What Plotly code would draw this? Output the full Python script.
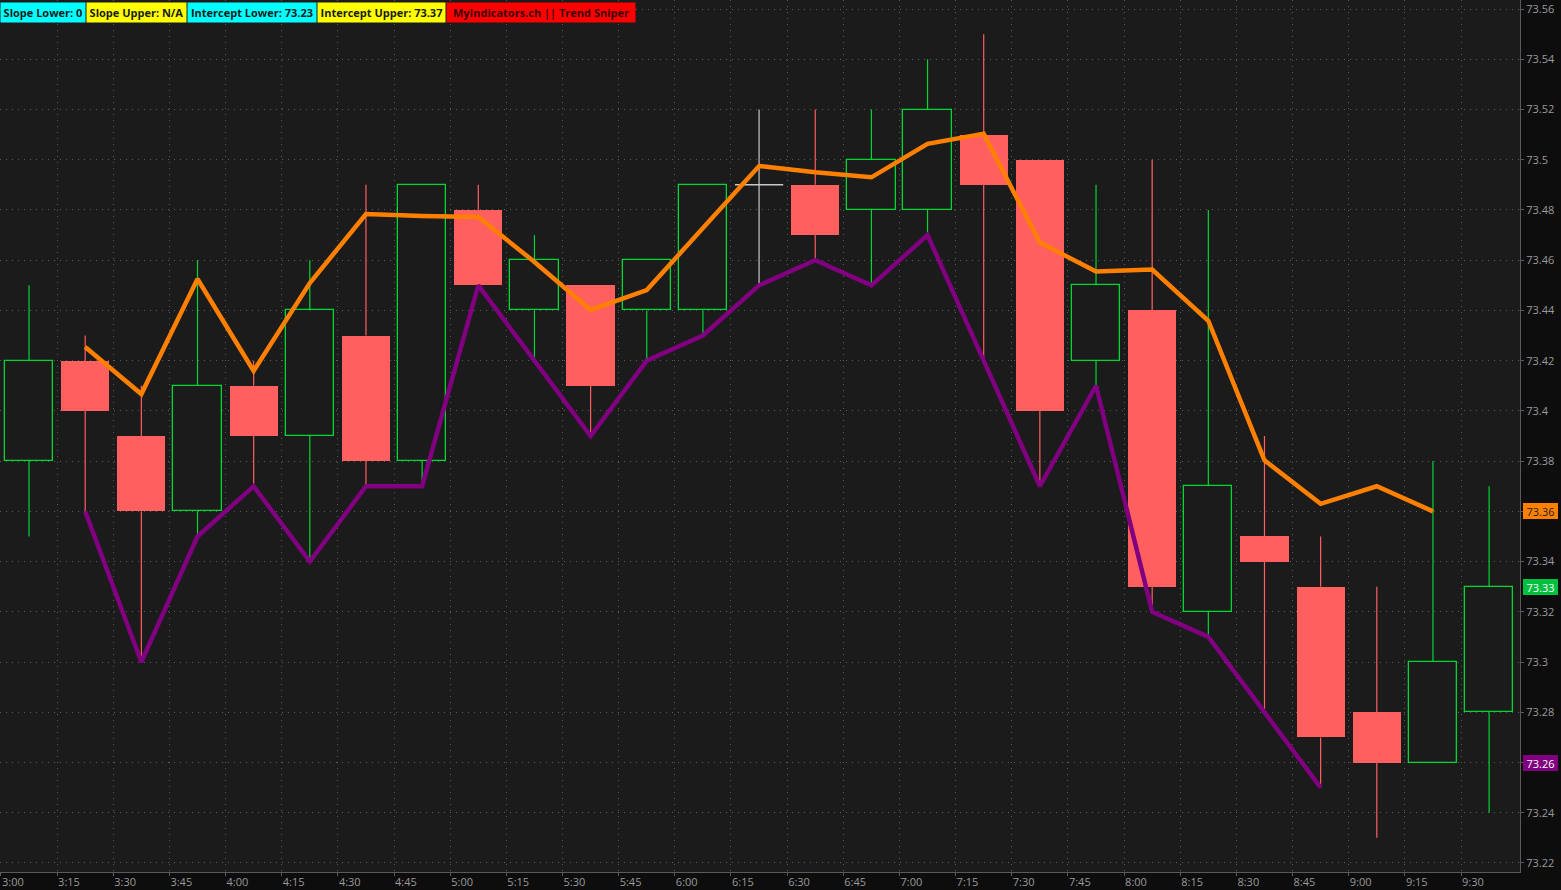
import plotly.graph_objects as go

# ---------------- data ----------------
time_labels = ["3:00", "3:15", "3:30", "3:45", "4:00", "4:15", "4:30", "4:45", "5:00",
               "5:15", "5:30", "5:45", "6:00", "6:15", "6:30", "6:45", "7:00", "7:15",
               "7:30", "7:45", "8:00", "8:15", "8:30", "8:45", "9:00", "9:15", "9:30"]
opens = [73.38, 73.42, 73.39, 73.36, 73.41, 73.39, 73.43, 73.38, 73.48, 73.44, 73.45, 73.44,
         73.44, 73.49, 73.49, 73.48, 73.48, 73.51, 73.50, 73.42, 73.44, 73.32, 73.35, 73.33,
         73.28, 73.26, 73.28]
closes = [73.42, 73.40, 73.36, 73.41, 73.39, 73.44, 73.38, 73.49, 73.45, 73.46, 73.41, 73.46,
          73.49, 73.49, 73.47, 73.50, 73.52, 73.49, 73.40, 73.45, 73.33, 73.37, 73.34, 73.27,
          73.26, 73.30, 73.33]
highs = [73.45, 73.43, 73.41, 73.46, 73.42, 73.46, 73.49, 73.49, 73.49, 73.47, 73.45, 73.46,
         73.49, 73.52, 73.52, 73.52, 73.54, 73.55, 73.50, 73.49, 73.50, 73.48, 73.39, 73.35,
         73.33, 73.38, 73.37]
lows = [73.35, 73.36, 73.30, 73.35, 73.37, 73.34, 73.37, 73.37, 73.45, 73.42, 73.39, 73.42,
        73.43, 73.45, 73.46, 73.45, 73.47, 73.42, 73.37, 73.41, 73.32, 73.31, 73.28, 73.25,
        73.23, 73.26, 73.24]
upper_line = [73.4254, 73.4067, 73.4525, 73.4159, 73.4509, 73.4784, 73.4776, 73.4772, 73.4593,
              73.4402, 73.4481, 73.4728, 73.4975, 73.4950, 73.4930, 73.5063, 73.5103, 73.4670,
              73.4555, 73.4563, 73.4359, 73.3803, 73.3630, 73.3700, 73.3600]
lower_line = [73.36, 73.30, 73.35, 73.37, 73.34, 73.37, 73.37, 73.45, 73.42, 73.39, 73.42,
              73.43, 73.45, 73.46, 73.45, 73.47, 73.42, 73.37, 73.41, 73.32, 73.31, 73.28, 73.25]
upper_start = 1
lower_start = 1
y_tick_labels = ["73.22", "73.24", "73.26", "73.28", "73.3", "73.32", "73.34", "73.36", "73.38",
                 "73.4", "73.42", "73.44", "73.46", "73.48", "73.5", "73.52", "73.54", "73.56"]
info_labels = ["Slope Lower: 0", "Slope Upper: N/A", "Intercept Lower: 73.23",
               "Intercept Upper: 73.37", "MyIndicators.ch || Trend Sniper"]
last_upper = 73.36
last_close = 73.33
last_lower = 73.26

# ---------------- styles ----------------
BG = "#1b1b1b"
PAPER = "#0d0d0d"
GREEN = "#00d633"
RED = "#ff5f5f"
GREY = "#c8c8c8"
ORANGE = "#ff8000"
PURPLE = "#800080"
BODY_W = 0.86
GRID = "#5c5c5c"

n = len(opens)
idx = list(range(n))

fig = go.Figure()

# bodies
up_i = [i for i in idx if closes[i] > opens[i]]
dn_i = [i for i in idx if closes[i] < opens[i]]
dj_i = [i for i in idx if closes[i] == opens[i]]

fig.add_trace(go.Bar(x=up_i, y=[closes[i] - opens[i] for i in up_i], base=[opens[i] for i in up_i],
                     width=BODY_W, marker=dict(color=BG, line=dict(color=GREEN, width=1.3)),
                     showlegend=False))
fig.add_trace(go.Bar(x=dn_i, y=[opens[i] - closes[i] for i in dn_i], base=[closes[i] for i in dn_i],
                     width=BODY_W, marker=dict(color=RED, line=dict(color=RED, width=0)),
                     showlegend=False))

# wicks (outside the bodies), grouped by colour
groups = {GREEN: ([], []), RED: ([], []), GREY: ([], [])}
for i in idx:
    if closes[i] > opens[i]:
        c = GREEN
    elif closes[i] < opens[i]:
        c = RED
    else:
        c = GREY
    top = max(opens[i], closes[i])
    bot = min(opens[i], closes[i])
    xs, ys = groups[c]
    if highs[i] > top:
        xs += [i, i, None]
        ys += [top, highs[i], None]
    if lows[i] < bot:
        xs += [i, i, None]
        ys += [lows[i], bot, None]
for c, (xs, ys) in groups.items():
    fig.add_trace(go.Scatter(x=xs, y=ys, mode="lines", line=dict(color=c, width=1.2),
                             hoverinfo="skip", showlegend=False))

dx, dy = [], []
for i in dj_i:
    dx += [i - BODY_W / 2, i + BODY_W / 2, None]
    dy += [opens[i], opens[i], None]
fig.add_trace(go.Scatter(x=dx, y=dy, mode="lines", line=dict(color=GREY, width=1.5),
                         showlegend=False, hoverinfo="skip"))

# indicator lines
fig.add_trace(go.Scatter(x=list(range(upper_start, upper_start + len(upper_line))), y=upper_line,
                         mode="lines", line=dict(color=ORANGE, width=4.5), showlegend=False))
fig.add_trace(go.Scatter(x=list(range(lower_start, lower_start + len(lower_line))), y=lower_line,
                         mode="lines", line=dict(color=PURPLE, width=4.5), showlegend=False))

W, H = 1561, 890
ML, MR, MT, MB = 0, 41, 0, 18
plot_w = W - ML - MR
plot_h = H - MT - MB

fig.update_layout(
    width=W, height=H,
    margin=dict(l=ML, r=MR, t=MT, b=MB, pad=0, autoexpand=False),
    plot_bgcolor=BG, paper_bgcolor=PAPER,
    barmode="overlay", bargap=0,
    font=dict(family="Open Sans", size=11, color="#9a9a9a"),
    showlegend=False,
)
fig.update_xaxes(
    range=[-0.517, 26.55],
    tickvals=[k - 0.5 for k in range(len(time_labels))],
    ticktext=time_labels,
    ticklabelposition="outside right",
    showgrid=True, gridcolor=GRID, griddash="1px,5px", gridwidth=1,
    zeroline=False,
    showline=True, linecolor="#5a5a5a", linewidth=1,
    ticks="outside", ticklen=3, tickcolor="#5a5a5a",
    tickfont=dict(family="Open Sans", size=11, color="#9a9a9a"),
    fixedrange=True,
)
yvals = [float(t) for t in y_tick_labels]
fig.update_yaxes(
    range=[73.2164, 73.5636],
    side="right",
    tickvals=yvals, ticktext=y_tick_labels,
    showgrid=True, gridcolor=GRID, griddash="1px,5px", gridwidth=1,
    zeroline=False,
    showline=True, linecolor="#5a5a5a", linewidth=1,
    ticks="outside", ticklen=3, tickcolor="#5a5a5a",
    tickfont=dict(family="Open Sans", size=11, color="#9a9a9a"),
    fixedrange=True,
)

# info labels at top-left
box_x = [0, 86, 187, 317, 446]
box_w = [84, 99, 128, 127, 188]
box_bg = ["#00ffff", "#ffff00", "#00ffff", "#ffff00", "#ff0000"]
box_fc = ["#1a1a1a", "#1a1a1a", "#1a1a1a", "#1a1a1a", "#3a0000"]
for t, x0, w, bg, fc in zip(info_labels, box_x, box_w, box_bg, box_fc):
    fig.add_annotation(
        xref="paper", yref="paper", x=x0 / plot_w, y=1 - 2 / plot_h,
        xanchor="left", yanchor="top", text="<b>" + t + "</b>", showarrow=False,
        width=w, height=19, bgcolor=bg, borderpad=0, align="center",
        font=dict(family="Open Sans", size=11, color=fc),
    )

# last value tags on price axis
for v, bg, fc in [(last_upper, ORANGE, "#202020"), (last_close, "#00c040", "#ffffff"),
                  (last_lower, PURPLE, "#ffffff")]:
    fig.add_annotation(
        xref="paper", yref="y", x=1 + 3 / plot_w, y=v, xanchor="left", yanchor="middle",
        text=f"{v:.2f}", showarrow=False, bgcolor=bg, bordercolor=bg, borderpad=1,
        width=31, height=12, font=dict(family="Open Sans", size=11, color=fc),
    )

fig.write_html("out.html", config={"displayModeBar": False},
               post_script="document.body.style.margin='0';")
